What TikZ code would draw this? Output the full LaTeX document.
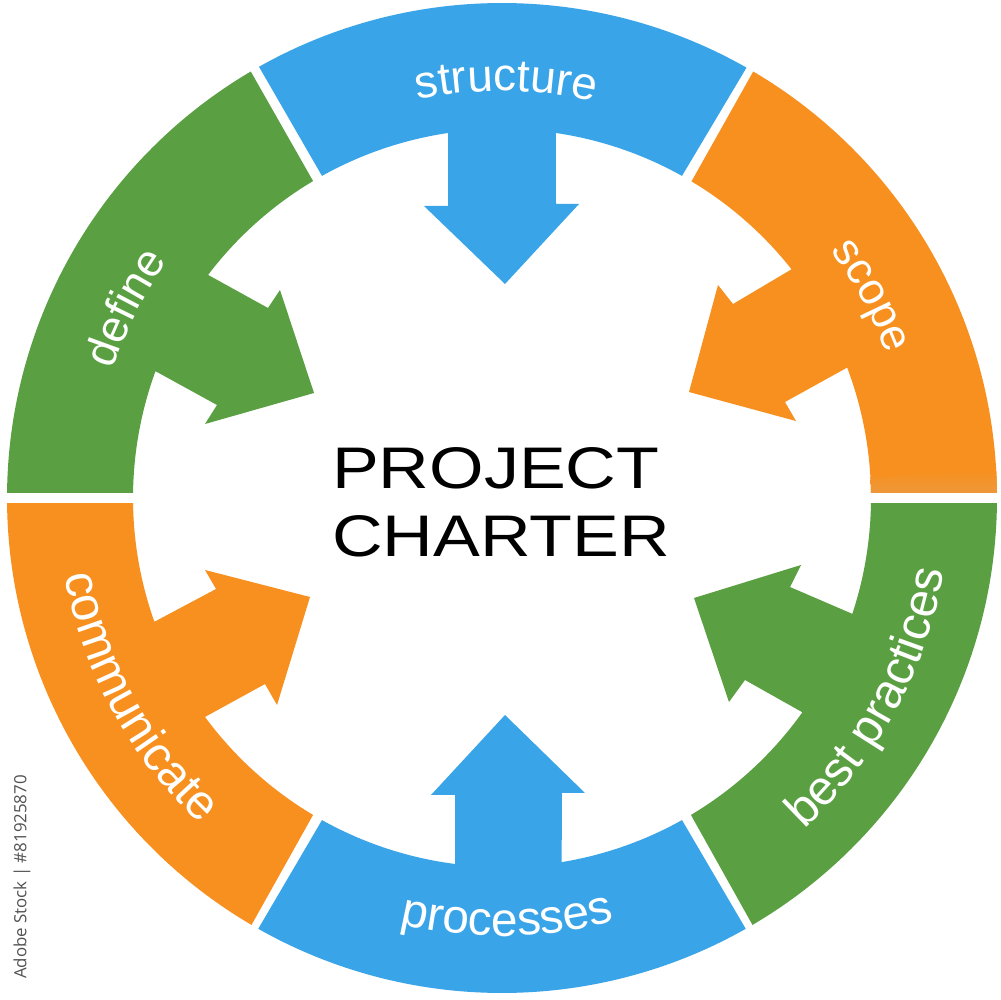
\documentclass[tikz,border=0pt]{standalone}
\usepackage{fontspec}
\setmainfont{Liberation Sans}
\newfontfamily\stockfont{Open Sans}
\usetikzlibrary{decorations.text}
\definecolor{segblue}{HTML}{39A4E8}
\definecolor{segorange}{HTML}{F7901E}
\definecolor{seggreen}{HTML}{5AA042}
\tikzset{
  seglabel/.style 2 args={decorate,decoration={text along path,text color=white,text align=center,text={|\fontsize{#1}{16}\selectfont|#2}}}
}
\begin{document}
\begin{tikzpicture}[x=0.1mm,y=0.1mm]
\useasboundingbox (0,0) rectangle (1000,1000);
\fill[white] (0,0) rectangle (1000,1000);
\begin{scope}[shift={(502,502)}]
% structure
\fill[segblue] (119.4:495) arc[start angle=119.4,end angle=60.4,radius=495] -- (60.8:369) arc[start angle=60.8,end angle=81.6,radius=369] -- (54,294) -- (77,294) -- (3,214) -- (-78,292) -- (-54,292) -- (98.4:369) arc[start angle=98.4,end angle=119.2,radius=369] -- cycle;
% scope
\fill[segorange] (59.5:495) arc[start angle=59.5,end angle=0.6,radius=495] -- (0.8:369) arc[start angle=0.8,end angle=20.7,radius=369] -- (283,96) -- (294,77) -- (187,106) -- (216,213) -- (231,194) -- (38.3:369) arc[start angle=38.3,end angle=59.1,radius=369] -- cycle;
\shade[top color=segorange,bottom color=segorange!80!brown!90!white] (0.6:495) arc[start angle=0.6,end angle=3.2,radius=495] -- (3.2:369) arc[start angle=3.2,end angle=0.8,radius=369] -- cycle;
% best practices
\fill[seggreen] (-0.6:495) arc[start angle=-0.6,end angle=-59.6,radius=495] -- (-59.2:369) arc[start angle=-59.2,end angle=-35.5,radius=369] -- (243,-182) -- (227,-204) -- (192,-100) -- (299,-67) -- (288,-89) -- (-18.3:369) arc[start angle=-18.3,end angle=-0.8,radius=369] -- cycle;
% processes
\fill[segblue] (-60.5:495) arc[start angle=-60.5,end angle=-119.5,radius=495] -- (-119.2:369) arc[start angle=-119.2,end angle=-97.3,radius=369] -- (-47,-297) -- (-71,-297) -- (3,-217) -- (83,-295) -- (60,-295) -- (-80.7:369) arc[start angle=-80.7,end angle=-60.8,radius=369] -- cycle;
% communicate
\fill[segorange] (239.6:495) arc[start angle=239.6,end angle=180.6,radius=495] -- (180.8:369) arc[start angle=180.8,end angle=199.6,radius=369] -- (-286,-91) -- (-297,-72) -- (-192,-99) -- (-225,-207) -- (-237,-186) -- (216.4:369) arc[start angle=216.4,end angle=239.2,radius=369] -- cycle;
% define
\fill[seggreen] (179.4:495) arc[start angle=179.4,end angle=120.5,radius=495] -- (120.8:369) arc[start angle=120.8,end angle=142.8,radius=369] -- (-234,190) -- (-222,208) -- (-188,105) -- (-297,74) -- (-285,93) -- (159.9:369) arc[start angle=159.9,end angle=179.2,radius=369] -- cycle;
% labels
\path[seglabel={13.05}{structure}] (129.4:407) arc[start angle=129.4,end angle=49.4,radius=407];
\path[seglabel={12.6}{scope}] (68.7:411) arc[start angle=68.7,end angle=-11.3,radius=411];
\path[seglabel={12.8}{define}] (193.2:410) arc[start angle=193.2,end angle=113.2,radius=410];
\path[seglabel={13.8}{best practices}] (-68.5:448) arc[start angle=-68.5,end angle=11.5,radius=448];
\path[seglabel={13.6}{processes}] (-129.3:438) arc[start angle=-129.3,end angle=-49.3,radius=438];
\path[seglabel={13.8}{communicate}] (168.6:444) arc[start angle=168.6,end angle=248.6,radius=444];
% centre
\node[align=left,inner sep=0pt,xscale=1.195,font=\fontsize{16.7}{19.3}\selectfont] (title) at (-1,-4) {PROJECT\\CHARTER};
\node[rotate=90,inner sep=0pt,text=black!68,font=\stockfont\fontsize{4.8}{6}\selectfont] (stock) at (-480,-379) {Adobe Stock | \#81925870};
\end{scope}
\end{tikzpicture}
\end{document}
